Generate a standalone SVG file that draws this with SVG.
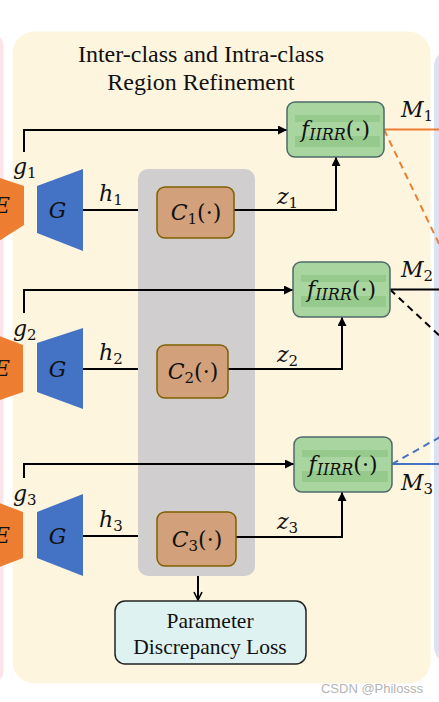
<svg xmlns="http://www.w3.org/2000/svg" width="439" height="702" viewBox="0 0 439 702">
<defs>
<marker id="ah" viewBox="0 0 10 10" refX="10" refY="5" markerWidth="9" markerHeight="9" markerUnits="userSpaceOnUse" orient="auto">
<path d="M0,0 L10,5 L0,10 z" fill="#000"/>
</marker>
<marker id="av" viewBox="0 0 10 10" refX="9" refY="5" markerWidth="10" markerHeight="10" markerUnits="userSpaceOnUse" orient="auto">
<path d="M1,1 L9,5 L1,9" fill="none" stroke="#000" stroke-width="1.6"/>
</marker>
</defs>
<style>
.title{font-family:"Liberation Serif",serif;font-size:24px;fill:#111;text-anchor:middle}
.loss{font-family:"Liberation Serif",serif;font-size:21.5px;fill:#111;text-anchor:middle}
.m{font-family:"DejaVu Serif",serif;font-style:italic;font-size:22px;fill:#111}
.sub{font-style:normal;font-size:15px}
.fs{font-style:italic;font-size:16px}
.ln{fill:none;stroke:#000;stroke-width:2}
.fbox{fill:#a8d5a0;stroke:#4d6a6a;stroke-width:1.5}
.fband{fill:#96ca8c}
.cbox{fill:#d2a07b;stroke:#7f6000;stroke-width:1.5}
.enc{fill:#ed7d31}
.dec{fill:#4472c4}
</style>
<rect width="439" height="702" fill="#fff"/>
<!-- panels -->
<rect x="-20" y="35" width="23.5" height="647" rx="10" fill="#fde4e8"/>
<rect x="12.5" y="31.5" width="418" height="652" rx="22" fill="#fef5df"/>
<rect x="434" y="50" width="40" height="613" rx="16" fill="#dae3f3"/>
<rect x="138" y="169" width="117" height="407" rx="10" fill="#d0cece"/>
<text class="title" x="201" y="62">Inter-class and Intra-class</text>
<text class="title" x="201" y="90">Region Refinement</text>

<g id="connectors">
<path class="ln" d="M24,152 V130 H287" marker-end="url(#ah)"/>
<path class="ln" d="M24,313 V290 H293" marker-end="url(#ah)"/>
<path class="ln" d="M24,478 V464 H294" marker-end="url(#ah)"/>
<path class="ln" d="M83,210 H138"/>
<path class="ln" d="M83,369 H138"/>
<path class="ln" d="M83,536 H138"/>
<path class="ln" d="M234,210 H336 V157" marker-end="url(#ah)"/>
<path class="ln" d="M228,369 H342 V317" marker-end="url(#ah)"/>
<path class="ln" d="M236,537 H342 V492" marker-end="url(#ah)"/>
<path class="ln" d="M198,576 V600" marker-end="url(#av)"/>
<path d="M384,129.5 H440" stroke="#ed7d31" stroke-width="2" fill="none"/>
<path d="M384,129.5 L442,250" stroke="#ed7d31" stroke-width="2" stroke-dasharray="7,5" fill="none"/>
<path d="M390,289.5 H440" stroke="#000" stroke-width="2" fill="none"/>
<path d="M390,289.5 L442,338" stroke="#000" stroke-width="2" stroke-dasharray="7,5" fill="none"/>
<path d="M392,464 H440" stroke="#4472c4" stroke-width="2" fill="none"/>
<path d="M392,464 L442,436" stroke="#4472c4" stroke-width="2" stroke-dasharray="7,5" fill="none"/>
</g>

<g id="E1"><polygon class="enc" points="-6,176 24,186 24,225 -6,244"/><text class="m" x="-6" y="213">E</text></g>
<g id="E2"><polygon class="enc" points="-6,334 23,345 23,392 -6,402"/><text class="m" x="-6" y="376">E</text></g>
<g id="E3"><polygon class="enc" points="-6,501 23,512 23,558 -6,569"/><text class="m" x="-6" y="543">E</text></g>

<g id="G1"><polygon class="dec" points="37,186 83,169 83,251 37,233"/><text class="m" x="57.5" y="218" text-anchor="middle">G</text></g>
<g id="G2"><polygon class="dec" points="37,343 83,328 83,409 37,392"/><text class="m" x="57.5" y="377" text-anchor="middle">G</text></g>
<g id="G3"><polygon class="dec" points="37,512 83,494 83,576 37,558"/><text class="m" x="57.5" y="544" text-anchor="middle">G</text></g>

<g id="C1"><rect class="cbox" x="157" y="187" width="77" height="51" rx="8"/><text class="m" x="196" y="220" text-anchor="middle" font-size="23">C<tspan class="sub" dy="4">1</tspan><tspan font-style="normal" dy="-4">(·)</tspan></text></g>
<g id="C2"><rect class="cbox" x="157" y="345" width="71" height="53" rx="8"/><text class="m" x="193" y="379" text-anchor="middle" font-size="23">C<tspan class="sub" dy="4">2</tspan><tspan font-style="normal" dy="-4">(·)</tspan></text></g>
<g id="C3"><rect class="cbox" x="157" y="512" width="79" height="54" rx="8"/><text class="m" x="197" y="547" text-anchor="middle" font-size="23">C<tspan class="sub" dy="4">3</tspan><tspan font-style="normal" dy="-4">(·)</tspan></text></g>

<g id="F1"><rect class="fbox" x="287" y="102" width="97" height="55" rx="8"/><rect class="fband" x="295" y="115" width="85" height="7"/><rect class="fband" x="295" y="136" width="85" height="11"/><text class="m" x="335.5" y="137" text-anchor="middle" font-size="23">f<tspan class="fs" dy="3">IIRR</tspan><tspan font-style="normal" dy="-3">(·)</tspan></text></g>
<g id="F2"><rect class="fbox" x="293" y="262" width="97" height="55" rx="8"/><rect class="fband" x="301" y="275" width="85" height="7"/><rect class="fband" x="301" y="296" width="85" height="11"/><text class="m" x="341.5" y="297" text-anchor="middle" font-size="23">f<tspan class="fs" dy="3">IIRR</tspan><tspan font-style="normal" dy="-3">(·)</tspan></text></g>
<g id="F3"><rect class="fbox" x="294" y="437" width="98" height="55" rx="8"/><rect class="fband" x="302" y="450" width="86" height="7"/><rect class="fband" x="302" y="471" width="86" height="11"/><text class="m" x="343" y="472" text-anchor="middle" font-size="23">f<tspan class="fs" dy="3">IIRR</tspan><tspan font-style="normal" dy="-3">(·)</tspan></text></g>

<g id="loss"><rect x="115" y="601" width="191" height="63" rx="10" fill="#def2f1" stroke="#222" stroke-width="1.5"/><text class="loss" x="210" y="628">Parameter</text><text class="loss" x="210" y="654">Discrepancy Loss</text></g>

<g id="labels">
<text class="m" x="13" y="174">g<tspan class="sub" dy="4">1</tspan></text>
<text class="m" x="13" y="336">g<tspan class="sub" dy="4">2</tspan></text>
<text class="m" x="13" y="501">g<tspan class="sub" dy="4">3</tspan></text>
<text class="m" x="99" y="201">h<tspan class="sub" dy="4">1</tspan></text>
<text class="m" x="99" y="360">h<tspan class="sub" dy="4">2</tspan></text>
<text class="m" x="99" y="527">h<tspan class="sub" dy="4">3</tspan></text>
<text class="m" x="277" y="204">z<tspan class="sub" dy="4">1</tspan></text>
<text class="m" x="277" y="362">z<tspan class="sub" dy="4">2</tspan></text>
<text class="m" x="277" y="529">z<tspan class="sub" dy="4">3</tspan></text>
<text class="m" x="401" y="117">M<tspan class="sub" dy="4">1</tspan></text>
<text class="m" x="401" y="277">M<tspan class="sub" dy="4">2</tspan></text>
<text class="m" x="401" y="490">M<tspan class="sub" dy="4">3</tspan></text>
</g>
<text x="423" y="693" font-family="Liberation Sans,sans-serif" font-size="13" fill="#b4b4b4" text-anchor="end">CSDN @Philosss</text>
</svg>
